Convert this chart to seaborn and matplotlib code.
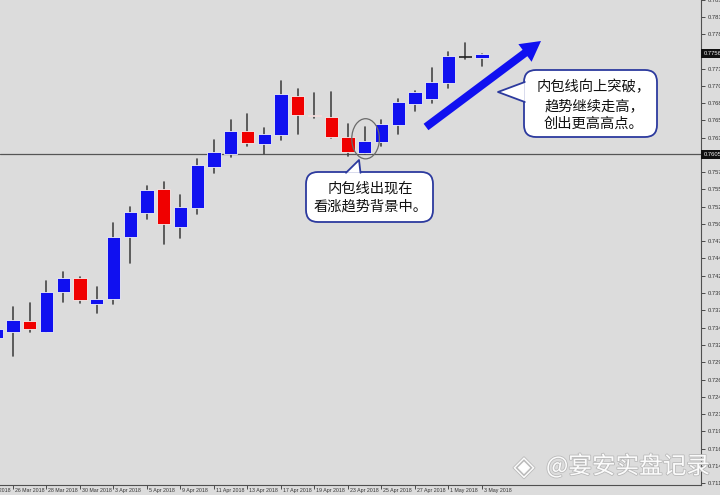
import numpy as np
import pandas as pd
import matplotlib
matplotlib.use("Agg")
import matplotlib.pyplot as plt
import matplotlib.transforms as mtransforms
from matplotlib.patches import FancyBboxPatch, Polygon, Ellipse, FancyArrow
from matplotlib.lines import Line2D
import matplotlib.patheffects as pe
import seaborn as sns

# ---------------- data ----------------
dates = ["23 Mar", "26 Mar", "27 Mar", "28 Mar", "29 Mar", "30 Mar", "2 Apr", "3 Apr",
         "4 Apr", "5 Apr", "6 Apr", "9 Apr", "10 Apr", "11 Apr", "12 Apr", "13 Apr",
         "16 Apr", "17 Apr", "18 Apr", "19 Apr", "20 Apr", "23 Apr", "24 Apr", "25 Apr",
         "26 Apr", "27 Apr", "30 Apr", "1 May", "2 May", "3 May"]
opens = [0.73299, 0.73389, 0.73567, 0.73403, 0.73999, 0.74207, 0.73820, 0.73895,
         0.74818, 0.75175, 0.75533, 0.74967, 0.75250, 0.75860, 0.76054, 0.76396,
         0.76203, 0.76337, 0.76917, 0.76635, 0.76605, 0.76307, 0.76069, 0.76233,
         0.76486, 0.76798, 0.76873, 0.77111, 0.77498, 0.77483]
highs = [0.73478, 0.73776, 0.73835, 0.74163, 0.74297, 0.74222, 0.74073, 0.75026,
         0.75265, 0.75577, 0.75637, 0.75443, 0.75979, 0.76262, 0.76560, 0.76649,
         0.76441, 0.77141, 0.77022, 0.76962, 0.76977, 0.76501, 0.76456, 0.76560,
         0.76873, 0.76992, 0.77334, 0.77573, 0.77707, 0.77543]
lows = [0.73195, 0.73031, 0.73389, 0.73389, 0.73850, 0.73835, 0.73686, 0.73820,
        0.74431, 0.75086, 0.74714, 0.74803, 0.75160, 0.75771, 0.76009, 0.76173,
        0.76054, 0.76262, 0.76352, 0.76590, 0.76292, 0.76024, 0.76054, 0.76173,
        0.76352, 0.76694, 0.76813, 0.77037, 0.77468, 0.77364]
closes = [0.73433, 0.73582, 0.73433, 0.73999, 0.74207, 0.73880, 0.73895, 0.74818,
          0.75190, 0.75518, 0.75012, 0.75265, 0.75890, 0.76084, 0.76396, 0.76218,
          0.76352, 0.76947, 0.76635, 0.76620, 0.76307, 0.76084, 0.76247, 0.76501,
          0.76828, 0.76977, 0.77126, 0.77513, 0.77498, 0.77543]

price_ticks = [0.71140, 0.71400, 0.71655, 0.71910, 0.72170, 0.72430, 0.72685, 0.72940,
               0.73200, 0.73460, 0.73720, 0.73975, 0.74235, 0.74495, 0.74750, 0.75010,
               0.75268, 0.75530, 0.75790, 0.76045, 0.76300, 0.76555, 0.76815, 0.77075,
               0.77330, 0.77585, 0.77840, 0.78100, 0.78355]
date_labels = ["22 Mar 2018", "26 Mar 2018", "28 Mar 2018", "30 Mar 2018", "3 Apr 2018",
               "5 Apr 2018", "9 Apr 2018", "11 Apr 2018", "13 Apr 2018", "17 Apr 2018",
               "19 Apr 2018", "23 Apr 2018", "25 Apr 2018", "27 Apr 2018", "1 May 2018",
               "3 May 2018"]
date_label_pos = [-1, 1, 3, 5, 7, 9, 11, 13, 15, 17, 19, 21, 23, 25, 27, 29]

support_level = 0.76050
last_price = 0.77560
inside_bar_index = 22

callout1 = "内包线出现在\n看涨趋势背景中。"
callout2 = "内包线向上突破，\n趋势继续走高，\n创出更高高点。"
watermark = "@宴安实盘记录"

# ---------------- style ----------------
sns.set_style("white")
plt.rcParams["font.family"] = ["Noto Sans CJK SC", "DejaVu Sans"]

BG = "#dcdcdc"
BLUE = "#1010f0"
RED = "#f00000"
WICK = "#454545"
NAVY = "#2c3a9e"
SMALL = ["Liberation Sans", "DejaVu Sans"]

fig = plt.figure(figsize=(7.2, 4.95), dpi=100, facecolor=BG)
ax = fig.add_axes([0.0, 10 / 495, 701 / 720, 485 / 495])
ax.set_facecolor(BG)

n = len(dates)
idx = np.arange(n)
df = pd.DataFrame({"i": idx, "date": dates, "open": opens, "high": highs,
                   "low": lows, "close": closes})

# wicks via seaborn
wick_df = pd.concat([
    df[["i", "high"]].rename(columns={"high": "price"}),
    df[["i", "low"]].rename(columns={"low": "price"}),
])
sns.lineplot(data=wick_df, x="i", y="price", units="i", estimator=None,
             color=WICK, lw=1.2, ax=ax, zorder=2, legend=False)

# bodies
w = 0.78
for _, r in df.iterrows():
    o, c = r["open"], r["close"]
    if c > o:
        col = BLUE
    elif c < o:
        col = RED
    else:
        col = None
    if col is None:
        ax.hlines(o, r["i"] - w / 2, r["i"] + w / 2, color="#202020", lw=1.2, zorder=3)
    else:
        h = abs(c - o)
        ax.bar(r["i"], max(h, 0.00004), bottom=min(o, c), width=w, color=col,
               edgecolor="#f2f2f2", linewidth=0.6, zorder=3)

# horizontal level line
ax.axhline(support_level, color="#555555", lw=0.9, zorder=1)

# ellipse around inside bar
ax.add_patch(Ellipse((inside_bar_index + 0.05, 0.76282), width=1.65, height=0.0060,
                     fill=False, edgecolor="#6a6a6a", lw=0.9, zorder=4))

# axes limits & spines
ax.set_xlim(0.224, 42.075)
ax.set_ylim(0.71110, 0.78332)
for s in ["top", "left"]:
    ax.spines[s].set_visible(False)
for s in ["right", "bottom"]:
    ax.spines[s].set_color("#505050")
    ax.spines[s].set_linewidth(0.8)
ax.set_xlabel("")
ax.set_ylabel("")

hidden = {support_level, last_price}
ax.yaxis.tick_right()
ax.set_yticks(price_ticks)
ylabels = []
for v in price_ticks:
    covered = any(abs(v - hv) < 0.0006 for hv in hidden)
    ylabels.append("" if covered else f"{v:.5f}")
ax.set_yticklabels(ylabels)
ax.tick_params(axis="y", direction="out", length=3, width=0.6, pad=1.5,
               labelsize=4.2, colors="#333333", right=True, left=False)
for t in ax.get_yticklabels():
    t.set_family(SMALL)
vis = [p for p in date_label_pos if p >= 0]
ax.set_xticks(vis)
ax.set_xticklabels([""] * len(vis))
ax.tick_params(axis="x", direction="out", length=3, width=0.6, colors="#333333",
               bottom=True)
ax.grid(False)

lab_tr = mtransforms.offset_copy(ax.get_xaxis_transform(), fig=fig, x=2, y=-3, units="dots")
for p, lab in zip(date_label_pos, date_labels):
    ax.text(p, 0, lab, transform=lab_tr, ha="left", va="top", fontsize=3.8,
            color="#333333", family=SMALL, clip_on=False)

# price boxes on right axis
box_tr = mtransforms.offset_copy(ax.get_yaxis_transform(), fig=fig, x=2.5, y=0, units="dots")
for v in (support_level, last_price):
    ax.text(1.0, v, f"{v:.5f}", transform=box_tr, ha="left", va="center",
            fontsize=4.2, color="#f0f0f0", family=SMALL, zorder=10,
            bbox=dict(boxstyle="square,pad=0.35", fc="#111111", ec="none"),
            clip_on=False)

# ---------------- pixel-space annotations ----------------
PX = mtransforms.Affine2D().scale(1 / 720, -1 / 495).translate(0, 1) + fig.transFigure


def callout(x0, y0, wd, ht, tri, text, tx, ty):
    fig.patches.append(FancyBboxPatch((x0, y0), wd, ht,
                                      boxstyle="round,pad=0,rounding_size=12",
                                      transform=PX, fc="white", ec=NAVY, lw=1.3,
                                      zorder=20))
    fig.patches.append(Polygon(tri, closed=True, transform=PX, fc="white", ec="none",
                               zorder=21))
    fig.lines.append(Line2D([tri[0][0], tri[1][0], tri[2][0]],
                            [tri[0][1], tri[1][1], tri[2][1]], transform=PX,
                            color=NAVY, lw=1.3, zorder=22))
    fig.text(tx, ty, text, transform=PX, ha="center", va="center", fontsize=10.3,
             color="#111111", linespacing=1.4, zorder=23)


callout(306, 172, 127, 50, [(346, 172.8), (359, 160), (360.5, 172.8)], callout1, 370, 197.5)
callout(524, 70, 133, 67, [(524.8, 82), (498, 92), (524.8, 102)], callout2, 594, 105.5)

# trend arrow
fig.patches.append(FancyArrow(426, 127, 115, -86, width=8, head_width=22, head_length=20,
                              length_includes_head=True, transform=PX, fc=BLUE,
                              ec="none", zorder=15))

# watermark
fig.text(546, 466, watermark, transform=PX, ha="left", va="center", fontsize=17,
         color="white", alpha=0.95, zorder=30,
         path_effects=[pe.withStroke(linewidth=1.2, foreground="#b8b8b8")])
fig.text(524, 467, "◈", transform=PX, ha="center", va="center", fontsize=20,
         color="white", alpha=0.95, zorder=30, family="DejaVu Sans",
         path_effects=[pe.withStroke(linewidth=1.2, foreground="#b8b8b8")])

fig.savefig("out.png", dpi=100, facecolor=BG)
